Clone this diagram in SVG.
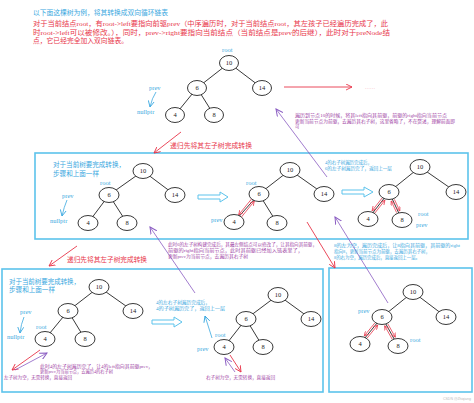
<svg xmlns="http://www.w3.org/2000/svg" width="474" height="403" viewBox="0 0 474 403">
<defs>
<style>
.bg{fill:#fff}
.nd ellipse{fill:#fff;stroke:#222;stroke-width:0.9}
.nd text{font-family:"Liberation Serif","Noto Sans CJK SC",serif;font-size:6.5px;fill:#222;text-anchor:middle}
.edge{stroke:#222;stroke-width:0.9;fill:none}
.lbl{font-family:"Liberation Serif","Noto Sans CJK SC",serif;font-size:6.5px;fill:#3aa8e0}
.cn{font-family:"Liberation Serif","Noto Sans CJK SC",serif}
.blue{fill:#3aa8e0}
.red{fill:#e8364a}
.pur{fill:#a03fa5}
.sm{font-size:4.4px}
.md{font-size:6.8px}
.box{fill:none;stroke:#5cc3ec;stroke-width:1.6}
.rl{stroke:#e8364a;stroke-width:0.9;fill:none;marker-end:url(#rh)}
.rd{stroke:#e8364a;stroke-width:0.8;fill:none;marker-end:url(#rs)}
.pl{stroke:#8a5cc2;stroke-width:0.8;fill:none;marker-end:url(#ph)}
.bl{stroke:#3aa8e0;stroke-width:0.8;fill:none;marker-end:url(#bh)}
.hollow{fill:#fff;stroke:#5cc3ec;stroke-width:1}
</style>
<marker id="rh" viewBox="0 0 8 8" refX="7" refY="4" markerWidth="7" markerHeight="7" markerUnits="userSpaceOnUse" orient="auto"><path d="M0,0.5 L7,4 L0,7.5" fill="none" stroke="#e8364a" stroke-width="1"/></marker>
<marker id="rs" viewBox="0 0 8 8" refX="7" refY="4" markerWidth="5" markerHeight="5" markerUnits="userSpaceOnUse" orient="auto"><path d="M0,0.5 L7,4 L0,7.5" fill="none" stroke="#e8364a" stroke-width="1.2"/></marker>
<marker id="ph" viewBox="0 0 8 8" refX="7" refY="4" markerWidth="8" markerHeight="8" markerUnits="userSpaceOnUse" orient="auto"><path d="M0,0.5 L7,4 L0,7.5" fill="none" stroke="#8a5cc2" stroke-width="1"/></marker>
<marker id="bh" viewBox="0 0 8 8" refX="7" refY="4" markerWidth="7" markerHeight="7" markerUnits="userSpaceOnUse" orient="auto"><path d="M0,0.5 L7,4 L0,7.5" fill="none" stroke="#3aa8e0" stroke-width="1"/></marker>
</defs>
<rect class="bg" x="0" y="0" width="474" height="403"/>

<!-- top texts -->
<g id="intro" class="cn">
<text class="blue md" x="33" y="14.5" textLength="135" lengthAdjust="spacingAndGlyphs">以下面这棵树为例，将其转换成双向循环链表</text>
<text class="red md" x="33" y="25.5" textLength="355" lengthAdjust="spacingAndGlyphs">对于当前结点root，有root-&gt;left要指向前驱prev（中序遍历时，对于当前结点root，其左孩子已经遍历完成了，此</text>
<text class="red md" x="33" y="34.5" textLength="357" lengthAdjust="spacingAndGlyphs">时root-&gt;left可以被修改。），同时，prev-&gt;right要指向当前结点（当前结点是prev的后继），此时对于preNode结</text>
<text class="red md" x="33" y="43" textLength="95" lengthAdjust="spacingAndGlyphs">点，它已经完全加入双向链表。</text>
</g>

<!-- boxes -->
<g id="boxes">
<rect class="box" x="35" y="153" width="433" height="86"/>
<rect class="box" x="2" y="269" width="321" height="123"/>
<rect class="box" x="329" y="268" width="143" height="124"/>
</g>

<!-- connectors -->
<g id="connectors">
<path class="edge" d="M229,63 L197,88 M229,63 L262,88 M197,88 L175,115 M197,88 L214,115"/>
<path class="edge" d="M143,171 L109,195 M143,171 L175,195 M109,195 L88,223 M109,195 L127,223"/>
<path class="edge" d="M290,170 L259,194 M290,170 L324,194 M259,194 L234,222 M259,194 L277,223"/>
<path class="edge" d="M420,167 L389,192 M420,167 L456,192 M389,192 L368,219 M389,192 L402,220"/>
<path class="edge" d="M99,287 L68,311 M99,287 L133,311 M68,311 L45,339 M68,311 L85,339"/>
<path class="edge" d="M278,295 L246,319 M278,295 L311,319 M246,319 L224,347 M246,319 L263,347"/>
<path class="edge" d="M413,292 L382,317 M413,292 L446,317 M382,317 L360,344 M382,317 L398,346"/>
<path class="bl" d="M156,92 Q152,98 150,107"/>
<path class="bl" d="M67,200 Q64,207 62,216"/>
<path class="bl" d="M24,317 Q21,324 20,333"/>
<path class="bl" d="M212,338 L205,316"/>
<path class="rl" d="M284,87 L352,87"/>
<path class="rl" d="M181,132 L154,153"/>
<path class="rl" d="M77,246 L49,266"/>
<path class="rl" d="M307,222 L335,268"/>
<path class="rl" d="M40,350 L12,370"/>
<path class="rl" d="M230,355 L241,372"/>
<path class="rd" d="M241.3,217.2 L254.3,201.2"/>
<path class="rd" d="M251.7,198.8 L238.7,214.8"/>
<path class="rd" d="M374.9,213 L384.9,200.2"/>
<path class="rd" d="M382.1,198 L372.1,210.8"/>
<path class="rd" d="M394.4,199.4 L399.8,211"/>
<path class="rd" d="M396.6,212.6 L391.2,201"/>
<path class="rd" d="M367.1,338.1 L377.7,325.1"/>
<path class="rd" d="M374.9,322.9 L364.3,335.9"/>
<path class="rd" d="M387.9,324 L395.3,337.2"/>
<path class="rd" d="M392.1,339 L384.7,325.8"/>
<path class="pl" d="M327,177 L276,109"/>
<path class="pl" d="M195,293 L150,227"/>
<path class="pl" d="M388,303 L335,217"/>
<path class="pl" d="M15,370 L47,353"/>
<path class="pl" d="M235,372 L225,358"/>
<path class="hollow" d="M198,195 L220,195 L220,192 L228,197 L220,202 L220,199 L198,199 Z"/>
<path class="hollow" d="M342,190 L364,190 L364,187 L373,192 L364,197 L364,194 L342,194 Z"/>
<path class="hollow" d="M152,320 L174,320 L174,317 L182,322 L174,327 L174,324 L152,324 Z"/>
</g>
<text class="cn" x="365" y="89" font-size="5" fill="#f08a9a" letter-spacing="0.5">......</text>

<g id="t1-10" class="nd"><ellipse cx="229" cy="63" rx="9.5" ry="7.5"/><text x="229" y="65.3">10</text></g>
<g id="t1-6" class="nd"><ellipse cx="197" cy="88" rx="9.5" ry="7.5"/><text x="197" y="90.3">6</text></g>
<g id="t1-14" class="nd"><ellipse cx="262" cy="88" rx="9.5" ry="7.5"/><text x="262" y="90.3">14</text></g>
<g id="t1-4" class="nd"><ellipse cx="175" cy="115" rx="9.5" ry="7.5"/><text x="175" y="117.3">4</text></g>
<g id="t1-8" class="nd"><ellipse cx="214" cy="115" rx="9.5" ry="7.5"/><text x="214" y="117.3">8</text></g>
<g id="t1-labels">
<text class="lbl" x="222" y="52">root</text>
<text class="lbl" x="149" y="90">prev</text>
<text class="lbl" x="137" y="114">nullptr</text>
</g>

<g id="t2-10" class="nd"><ellipse cx="143" cy="171" rx="10" ry="7.5"/><text x="143" y="173.3">10</text></g>
<g id="t2-6" class="nd"><ellipse cx="109" cy="195" rx="10" ry="7.5"/><text x="109" y="197.3">6</text></g>
<g id="t2-14" class="nd"><ellipse cx="175" cy="195" rx="10" ry="7.5"/><text x="175" y="197.3">14</text></g>
<g id="t2-4" class="nd"><ellipse cx="88" cy="223" rx="10" ry="7.5"/><text x="88" y="225.3">4</text></g>
<g id="t2-8" class="nd"><ellipse cx="127" cy="223" rx="10" ry="7.5"/><text x="127" y="225.3">8</text></g>
<g id="t2-labels">
<text class="lbl" x="100" y="185">root</text>
<text class="lbl" x="62" y="198">prev</text>
<text class="lbl" x="50" y="223">nullptr</text>
</g>

<g id="t3-10" class="nd"><ellipse cx="290" cy="170" rx="10" ry="7.5"/><text x="290" y="172.3">10</text></g>
<g id="t3-6" class="nd"><ellipse cx="259" cy="194" rx="10" ry="7.5"/><text x="259" y="196.3">6</text></g>
<g id="t3-14" class="nd"><ellipse cx="324" cy="194" rx="10" ry="7.5"/><text x="324" y="196.3">14</text></g>
<g id="t3-4" class="nd"><ellipse cx="234" cy="222" rx="10" ry="7.5"/><text x="234" y="224.3">4</text></g>
<g id="t3-8" class="nd"><ellipse cx="277" cy="223" rx="10" ry="7.5"/><text x="277" y="225.3">8</text></g>
<g id="t3-labels">
<text class="lbl" x="246" y="185">root</text>
<text class="lbl" x="211" y="222">prev</text>
</g>

<g id="t4-10" class="nd"><ellipse cx="420" cy="167" rx="10" ry="7.5"/><text x="420" y="169.3">10</text></g>
<g id="t4-6" class="nd"><ellipse cx="389" cy="192" rx="10" ry="7.5"/><text x="389" y="194.3">6</text></g>
<g id="t4-14" class="nd"><ellipse cx="456" cy="192" rx="10" ry="7.5"/><text x="456" y="194.3">14</text></g>
<g id="t4-4" class="nd"><ellipse cx="368" cy="219" rx="10" ry="7.5"/><text x="368" y="221.3">4</text></g>
<g id="t4-8" class="nd"><ellipse cx="402" cy="220" rx="10" ry="7.5"/><text x="402" y="222.3">8</text></g>
<g id="t4-labels">
<text class="lbl" x="418" y="216">root</text>
<text class="lbl" x="416" y="227">prev</text>
</g>

<g id="t5-10" class="nd"><ellipse cx="99" cy="287" rx="10" ry="7.5"/><text x="99" y="289.3">10</text></g>
<g id="t5-6" class="nd"><ellipse cx="68" cy="311" rx="10" ry="7.5"/><text x="68" y="313.3">6</text></g>
<g id="t5-14" class="nd"><ellipse cx="133" cy="311" rx="10" ry="7.5"/><text x="133" y="313.3">14</text></g>
<g id="t5-4" class="nd"><ellipse cx="45" cy="339" rx="10" ry="7.5"/><text x="45" y="341.3">4</text></g>
<g id="t5-8" class="nd"><ellipse cx="85" cy="339" rx="10" ry="7.5"/><text x="85" y="341.3">8</text></g>
<g id="t5-labels">
<text class="lbl" x="36" y="329">root</text>
<text class="lbl" x="20" y="314">prev</text>
<text class="lbl" x="7" y="339">nullptr</text>
</g>

<g id="t6-10" class="nd"><ellipse cx="278" cy="295" rx="10" ry="7.5"/><text x="278" y="297.3">10</text></g>
<g id="t6-6" class="nd"><ellipse cx="246" cy="319" rx="10" ry="7.5"/><text x="246" y="321.3">6</text></g>
<g id="t6-14" class="nd"><ellipse cx="311" cy="319" rx="10" ry="7.5"/><text x="311" y="321.3">14</text></g>
<g id="t6-4" class="nd"><ellipse cx="224" cy="347" rx="10" ry="7.5"/><text x="224" y="349.3">4</text></g>
<g id="t6-8" class="nd"><ellipse cx="263" cy="347" rx="10" ry="7.5"/><text x="263" y="349.3">8</text></g>
<g id="t6-labels">
<text class="lbl" x="215" y="337">root</text>
<text class="lbl" x="197" y="351">prev</text>
</g>

<g id="t7-10" class="nd"><ellipse cx="413" cy="292" rx="10" ry="7.5"/><text x="413" y="294.3">10</text></g>
<g id="t7-6" class="nd"><ellipse cx="382" cy="317" rx="10" ry="7.5"/><text x="382" y="319.3">6</text></g>
<g id="t7-14" class="nd"><ellipse cx="446" cy="317" rx="10" ry="7.5"/><text x="446" y="319.3">14</text></g>
<g id="t7-4" class="nd"><ellipse cx="360" cy="344" rx="10" ry="7.5"/><text x="360" y="346.3">4</text></g>
<g id="t7-8" class="nd"><ellipse cx="398" cy="346" rx="10" ry="7.5"/><text x="398" y="348.3">8</text></g>
<g id="t7-labels">
<text class="lbl" x="358" y="313">prev</text>
<text class="lbl" x="410" y="342">root</text>
</g>

<g id="notes" class="cn">
<text class="red md" x="170" y="148" textLength="82" lengthAdjust="spacingAndGlyphs">递归先将其左子树完成转换</text>
<text class="red md" x="67" y="262" textLength="80" lengthAdjust="spacingAndGlyphs">递归先将其左子树完成转换</text>
<text class="blue md" x="53" y="166.5" textLength="72" lengthAdjust="spacingAndGlyphs">对于当前树要完成转换，</text>
<text class="blue md" x="53" y="175.5" textLength="46" lengthAdjust="spacingAndGlyphs">步骤和上面一样</text>
<text class="blue md" x="9" y="283.5" textLength="71" lengthAdjust="spacingAndGlyphs">对于当前树要完成转换，</text>
<text class="blue md" x="9" y="292" textLength="46" lengthAdjust="spacingAndGlyphs">步骤和上面一样</text>

<text class="pur sm" x="295" y="117" textLength="152" lengthAdjust="spacingAndGlyphs">遍历到节点10的时候，将其left指向其前驱，前驱的right指向当前节点</text>
<text class="pur sm" x="295" y="122.5" textLength="160" lengthAdjust="spacingAndGlyphs">更新当前节点为前驱，去遍历其右子树，这里省略了，不在赘述，理解前面即</text>
<text class="pur sm" x="295" y="128">可</text>

<text class="blue sm" x="325" y="164" textLength="47" lengthAdjust="spacingAndGlyphs">4的右子树遍历完成后，</text>
<text class="blue sm" x="325" y="169.5" textLength="67" lengthAdjust="spacingAndGlyphs">6的左子树遍历完了，返回上一层</text>

<text class="pur sm" x="168" y="245.5" textLength="149" lengthAdjust="spacingAndGlyphs">此时6的左子树构建完成后，其最左侧结点可以修改了，让其指向其前驱，</text>
<text class="pur sm" x="168" y="251.5" textLength="135" lengthAdjust="spacingAndGlyphs">前驱的right指向当前节点，此时其前驱已经加入链表里了，</text>
<text class="pur sm" x="168" y="257.5" textLength="80" lengthAdjust="spacingAndGlyphs">更新prev为当前节点，去遍历其右子树</text>

<text class="blue sm" x="334" y="247" textLength="126" lengthAdjust="spacingAndGlyphs">8的左为空，遍历完成后，让8指向其前驱，其前驱的right</text>
<text class="blue sm" x="334" y="253" textLength="96" lengthAdjust="spacingAndGlyphs">指向8，更新当前节点为前驱，去遍历其右子树，</text>
<text class="blue sm" x="334" y="259" textLength="86" lengthAdjust="spacingAndGlyphs">8的右为空，遍历完成后，直接返回上一层。</text>

<text class="blue sm" x="156" y="303.5" textLength="54" lengthAdjust="spacingAndGlyphs">4的左右子树遍历完成后，</text>
<text class="blue sm" x="156" y="310" textLength="69" lengthAdjust="spacingAndGlyphs">4的子树遍历完了，返回上一层</text>

<text class="pur sm" x="40" y="367.5" textLength="113" lengthAdjust="spacingAndGlyphs">此时4的左子树遍历完了，让4的left指向其前驱prev，</text>
<text class="pur sm" x="40" y="373" textLength="73" lengthAdjust="spacingAndGlyphs">更新prev为当前节点，去遍历4的右子树</text>
<text class="pur sm" x="4" y="379" textLength="68" lengthAdjust="spacingAndGlyphs">左子树为空，无需转换，直接返回</text>
<text class="pur sm" x="206" y="379" textLength="69" lengthAdjust="spacingAndGlyphs">右子树为空，无需转换，直接返回</text>
<text x="443" y="400" font-family="Liberation Sans,sans-serif" font-size="3.5" fill="#bbb">CSDN @Zhiqiang</text>
</g>
</svg>
